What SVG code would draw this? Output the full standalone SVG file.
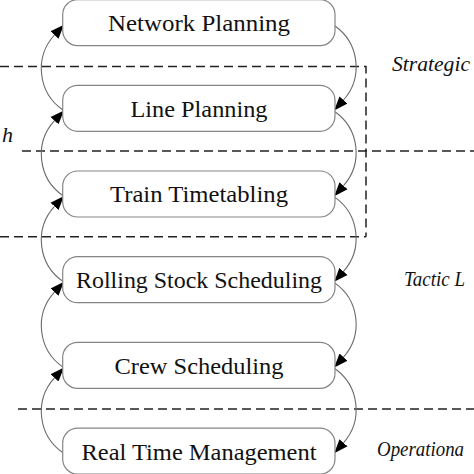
<svg xmlns="http://www.w3.org/2000/svg" width="474" height="474" viewBox="0 0 474 474">
<style>
.box{fill:#fff;stroke:#858585;stroke-width:1.2}
.lbl{font-family:"Liberation Serif",serif;font-size:23px;fill:#111;text-anchor:middle}
.lvl{font-family:"Liberation Serif",serif;font-style:italic;font-size:22px;fill:#111}
.dash{stroke:#222;stroke-width:1.5;stroke-dasharray:9 5;fill:none}
.arc{fill:none;stroke:#6a6a6a;stroke-width:1.1;marker-end:url(#ah)}
</style>
<defs>
<marker id="ah" markerUnits="userSpaceOnUse" markerWidth="14" markerHeight="12" refX="0" refY="5" orient="auto" viewBox="0 0 13 10">
<path d="M0,0 L13,5 L0,10 Z" fill="#000"/>
</marker>
</defs>
<rect width="474" height="474" fill="#fff"/>
<g id="levels">
<path class="dash" d="M0,66.5 H366 V236.7"/>
<path class="dash" d="M22,151 H474"/>
<path class="dash" d="M0,236.7 H366"/>
<path class="dash" d="M18,409 H474"/>
<text class="lvl" x="392" y="71" textLength="78" lengthAdjust="spacingAndGlyphs">Strategic</text>
<text class="lvl" x="2" y="142">h</text>
<text class="lvl" x="404" y="286" textLength="61" lengthAdjust="spacingAndGlyphs">Tactic L</text>
<text class="lvl" x="377" y="456" style="font-size:21px" textLength="87" lengthAdjust="spacingAndGlyphs">Operationa</text>
</g>
<g id="connectors">
<path class="arc" d="M335,26 A50,50 0 0 1 343.5,100"/>
<path class="arc" d="M335,111.7 A50,50 0 0 1 343.5,185.7"/>
<path class="arc" d="M335,197.4 A50,50 0 0 1 343.5,271.4"/>
<path class="arc" d="M335,283.1 A50,50 0 0 1 343.5,357.1"/>
<path class="arc" d="M335,368.8 A50,50 0 0 1 343.5,442.8"/>
<path class="arc" d="M63,110 A50,50 0 0 1 54.5,35"/>
<path class="arc" d="M63,195.7 A50,50 0 0 1 54.5,120.7"/>
<path class="arc" d="M63,281.4 A50,50 0 0 1 54.5,206.4"/>
<path class="arc" d="M63,367.1 A50,50 0 0 1 54.5,292.1"/>
<path class="arc" d="M63,452.8 A50,50 0 0 1 54.5,377.8"/>
</g>
<g id="n1"><rect class="box" x="62.7" y="-0.4" width="272.3" height="46" rx="15"/><text class="lbl" x="199" y="31" textLength="182" lengthAdjust="spacingAndGlyphs">Network Planning</text></g>
<g id="n2"><rect class="box" x="62.7" y="85.3" width="272.3" height="46" rx="15"/><text class="lbl" x="199" y="116.7" textLength="137" lengthAdjust="spacingAndGlyphs">Line Planning</text></g>
<g id="n3"><rect class="box" x="62.7" y="171" width="272.3" height="46" rx="15"/><text class="lbl" x="199" y="202.4" textLength="178" lengthAdjust="spacingAndGlyphs">Train Timetabling</text></g>
<g id="n4"><rect class="box" x="62.7" y="256.7" width="272.3" height="46" rx="15"/><text class="lbl" x="199" y="288.1" textLength="246" lengthAdjust="spacingAndGlyphs">Rolling Stock Scheduling</text></g>
<g id="n5"><rect class="box" x="62.7" y="342.4" width="272.3" height="46" rx="15"/><text class="lbl" x="199" y="373.8" textLength="169" lengthAdjust="spacingAndGlyphs">Crew Scheduling</text></g>
<g id="n6"><rect class="box" x="62.7" y="428.1" width="272.3" height="46" rx="15"/><text class="lbl" x="199" y="459.5" textLength="235" lengthAdjust="spacingAndGlyphs">Real Time Management</text></g>
</svg>
